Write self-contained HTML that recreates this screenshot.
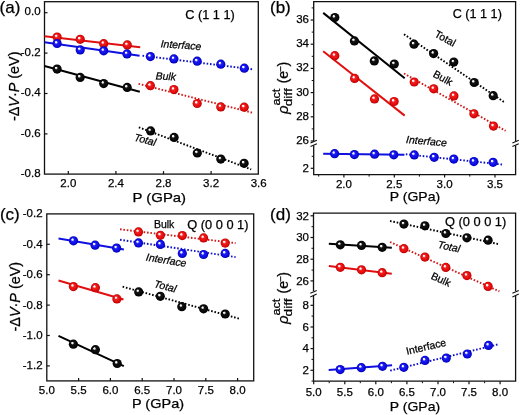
<!DOCTYPE html>
<html><head><meta charset="utf-8"><title>figure</title>
<style>
html,body{margin:0;padding:0;background:#fff;}
body{width:520px;height:415px;overflow:hidden;}
svg{display:block;font-family:"Liberation Sans", Arial, sans-serif;fill:#111;filter:blur(0.3px);}
svg text{fill:#000;stroke:#000;stroke-width:0.25px;}
</style></head><body>
<svg width="520" height="415" viewBox="0 0 520 415">
<defs>
<radialGradient id="gr" cx="0.5" cy="0.5" r="0.5" fx="0.36" fy="0.33">
<stop offset="0" stop-color="#ffffff"/><stop offset="0.16" stop-color="#fff0f0"/><stop offset="0.36" stop-color="#f22020"/><stop offset="0.8" stop-color="#e00808"/><stop offset="1" stop-color="#b00000"/></radialGradient>
<radialGradient id="gb" cx="0.5" cy="0.5" r="0.5" fx="0.36" fy="0.33">
<stop offset="0" stop-color="#ffffff"/><stop offset="0.16" stop-color="#f0f0ff"/><stop offset="0.36" stop-color="#2020f2"/><stop offset="0.8" stop-color="#0808e0"/><stop offset="1" stop-color="#0000a8"/></radialGradient>
<radialGradient id="gk" cx="0.5" cy="0.5" r="0.5" fx="0.36" fy="0.33">
<stop offset="0" stop-color="#ffffff"/><stop offset="0.16" stop-color="#f0f0f0"/><stop offset="0.36" stop-color="#141414"/><stop offset="1" stop-color="#000"/></radialGradient>
</defs>
<rect x="44.5" y="1.7" width="213.8" height="172.4" fill="none" stroke="#111" stroke-width="1.3"/>
<line x1="44.5" y1="12.7" x2="47.5" y2="12.7" stroke="#111" stroke-width="1.2" stroke-linecap="butt"/>
<text x="40.6" y="15.4" font-size="11.5" text-anchor="end" style="">0.0</text>
<line x1="44.5" y1="53.1" x2="47.5" y2="53.1" stroke="#111" stroke-width="1.2" stroke-linecap="butt"/>
<text x="40.6" y="55.8" font-size="11.5" text-anchor="end" style="">-0.2</text>
<line x1="44.5" y1="93.5" x2="47.5" y2="93.5" stroke="#111" stroke-width="1.2" stroke-linecap="butt"/>
<text x="40.6" y="96.2" font-size="11.5" text-anchor="end" style="">-0.4</text>
<line x1="44.5" y1="133.9" x2="47.5" y2="133.9" stroke="#111" stroke-width="1.2" stroke-linecap="butt"/>
<text x="40.6" y="136.6" font-size="11.5" text-anchor="end" style="">-0.6</text>
<text x="40.6" y="177.0" font-size="11.5" text-anchor="end" style="">-0.8</text>
<line x1="68.3" y1="174.1" x2="68.3" y2="171.1" stroke="#111" stroke-width="1.2" stroke-linecap="butt"/>
<text x="68.3" y="186.7" font-size="11.5" text-anchor="middle" style="">2.0</text>
<line x1="115.9" y1="174.1" x2="115.9" y2="171.1" stroke="#111" stroke-width="1.2" stroke-linecap="butt"/>
<text x="115.9" y="186.7" font-size="11.5" text-anchor="middle" style="">2.4</text>
<line x1="163.5" y1="174.1" x2="163.5" y2="171.1" stroke="#111" stroke-width="1.2" stroke-linecap="butt"/>
<text x="163.5" y="186.7" font-size="11.5" text-anchor="middle" style="">2.8</text>
<line x1="211.1" y1="174.1" x2="211.1" y2="171.1" stroke="#111" stroke-width="1.2" stroke-linecap="butt"/>
<text x="211.1" y="186.7" font-size="11.5" text-anchor="middle" style="">3.2</text>
<text x="258.7" y="186.7" font-size="11.5" text-anchor="middle" style="">3.6</text>
<text x="159.3" y="201.8" font-size="13" text-anchor="middle" textLength="53.5" lengthAdjust="spacingAndGlyphs" style="">P (GPa)</text>
<text x="-0.4" y="12.6" font-size="17" text-anchor="start" style="">(a)</text>
<text x="210.0" y="19.3" font-size="12" text-anchor="middle" textLength="49.5" lengthAdjust="spacingAndGlyphs" style="">C (1 1 1)</text>
<text transform="translate(18.6,86.3) rotate(-90)" font-size="14.4" text-anchor="middle">-&#916;<tspan font-style="italic">V</tspan>&#183;<tspan font-style="italic">P</tspan> (eV)</text>
<line x1="44.5" y1="36.2" x2="140.2" y2="47.3" stroke="#e01010" stroke-width="2.0" stroke-linecap="butt"/>
<circle cx="57.1" cy="37.0" r="4.6" fill="url(#gr)"/>
<circle cx="80.2" cy="39.3" r="4.6" fill="url(#gr)"/>
<circle cx="103.7" cy="43.7" r="4.6" fill="url(#gr)"/>
<circle cx="127.3" cy="44.9" r="4.6" fill="url(#gr)"/>
<line x1="44.5" y1="42.3" x2="139.6" y2="55.8" stroke="#1010e0" stroke-width="2.0" stroke-linecap="butt"/>
<circle cx="57.1" cy="43.5" r="4.6" fill="url(#gb)"/>
<circle cx="80.2" cy="49.9" r="4.6" fill="url(#gb)"/>
<circle cx="103.7" cy="50.8" r="4.6" fill="url(#gb)"/>
<circle cx="127.0" cy="53.9" r="4.6" fill="url(#gb)"/>
<line x1="44.5" y1="66.0" x2="139.8" y2="91.7" stroke="#000" stroke-width="2.0" stroke-linecap="butt"/>
<circle cx="57.1" cy="69.1" r="4.6" fill="url(#gk)"/>
<circle cx="80.2" cy="77.4" r="4.6" fill="url(#gk)"/>
<circle cx="103.7" cy="83.6" r="4.6" fill="url(#gk)"/>
<circle cx="127.2" cy="87.4" r="4.6" fill="url(#gk)"/>
<line x1="142.5" y1="55.7" x2="252.6" y2="69.3" stroke="#1010c8" stroke-width="1.9" stroke-dasharray="1.6 1.8" stroke-linecap="butt"/>
<circle cx="150.4" cy="56.6" r="4.6" fill="url(#gb)"/>
<circle cx="173.9" cy="58.9" r="4.6" fill="url(#gb)"/>
<circle cx="197.2" cy="61.2" r="4.6" fill="url(#gb)"/>
<circle cx="220.8" cy="64.2" r="4.6" fill="url(#gb)"/>
<circle cx="244.3" cy="68.2" r="4.6" fill="url(#gb)"/>
<line x1="138.5" y1="83.8" x2="252.0" y2="112.6" stroke="#d01818" stroke-width="1.9" stroke-dasharray="1.6 1.8" stroke-linecap="butt"/>
<circle cx="150.4" cy="85.7" r="4.6" fill="url(#gr)"/>
<circle cx="173.9" cy="89.6" r="4.6" fill="url(#gr)"/>
<circle cx="197.2" cy="103.5" r="4.6" fill="url(#gr)"/>
<circle cx="220.8" cy="106.9" r="4.6" fill="url(#gr)"/>
<circle cx="244.2" cy="107.2" r="4.6" fill="url(#gr)"/>
<line x1="138.8" y1="127.3" x2="251.2" y2="169.4" stroke="#000" stroke-width="1.9" stroke-dasharray="1.6 1.8" stroke-linecap="butt"/>
<circle cx="150.6" cy="130.9" r="4.6" fill="url(#gk)"/>
<circle cx="174.1" cy="137.4" r="4.6" fill="url(#gk)"/>
<circle cx="197.3" cy="153.0" r="4.6" fill="url(#gk)"/>
<circle cx="220.8" cy="159.1" r="4.6" fill="url(#gk)"/>
<circle cx="244.1" cy="163.3" r="4.6" fill="url(#gk)"/>
<path d="M313.7,141 L313.7,1.7 L515.6,1.7 L515.6,141 M515.6,145.5 L515.6,174.6 L313.7,174.6 L313.7,145.5" fill="none" stroke="#111" stroke-width="1.3"/>
<line x1="310.5" y1="143.0" x2="316.9" y2="140.2" stroke="#111" stroke-width="1.1" stroke-linecap="butt"/>
<line x1="310.5" y1="146.6" x2="316.9" y2="143.8" stroke="#111" stroke-width="1.1" stroke-linecap="butt"/>
<line x1="512.4" y1="143.0" x2="518.8" y2="140.2" stroke="#111" stroke-width="1.1" stroke-linecap="butt"/>
<line x1="512.4" y1="146.6" x2="518.8" y2="143.8" stroke="#111" stroke-width="1.1" stroke-linecap="butt"/>
<line x1="313.7" y1="20.0" x2="310.7" y2="20.0" stroke="#111" stroke-width="1.2" stroke-linecap="butt"/>
<text x="309.0" y="22.9" font-size="11.5" text-anchor="end" style="">36</text>
<line x1="313.7" y1="44.2" x2="310.7" y2="44.2" stroke="#111" stroke-width="1.2" stroke-linecap="butt"/>
<text x="309.0" y="47.1" font-size="11.5" text-anchor="end" style="">34</text>
<line x1="313.7" y1="68.4" x2="310.7" y2="68.4" stroke="#111" stroke-width="1.2" stroke-linecap="butt"/>
<text x="309.0" y="71.3" font-size="11.5" text-anchor="end" style="">32</text>
<line x1="313.7" y1="92.6" x2="310.7" y2="92.6" stroke="#111" stroke-width="1.2" stroke-linecap="butt"/>
<text x="309.0" y="95.5" font-size="11.5" text-anchor="end" style="">30</text>
<line x1="313.7" y1="116.8" x2="310.7" y2="116.8" stroke="#111" stroke-width="1.2" stroke-linecap="butt"/>
<text x="309.0" y="119.7" font-size="11.5" text-anchor="end" style="">28</text>
<line x1="313.7" y1="141.0" x2="310.7" y2="141.0" stroke="#111" stroke-width="1.2" stroke-linecap="butt"/>
<text x="309.0" y="143.9" font-size="11.5" text-anchor="end" style="">26</text>
<line x1="313.7" y1="7.9" x2="311.7" y2="7.9" stroke="#111" stroke-width="1.0" stroke-linecap="butt"/>
<line x1="313.7" y1="32.1" x2="311.7" y2="32.1" stroke="#111" stroke-width="1.0" stroke-linecap="butt"/>
<line x1="313.7" y1="56.3" x2="311.7" y2="56.3" stroke="#111" stroke-width="1.0" stroke-linecap="butt"/>
<line x1="313.7" y1="80.5" x2="311.7" y2="80.5" stroke="#111" stroke-width="1.0" stroke-linecap="butt"/>
<line x1="313.7" y1="104.7" x2="311.7" y2="104.7" stroke="#111" stroke-width="1.0" stroke-linecap="butt"/>
<line x1="313.7" y1="128.9" x2="311.7" y2="128.9" stroke="#111" stroke-width="1.0" stroke-linecap="butt"/>
<line x1="313.7" y1="168.3" x2="310.7" y2="168.3" stroke="#111" stroke-width="1.2" stroke-linecap="butt"/>
<text x="309.0" y="172.1" font-size="11.5" text-anchor="end" style="">2</text>
<line x1="313.7" y1="156.3" x2="311.7" y2="156.3" stroke="#111" stroke-width="1.0" stroke-linecap="butt"/>
<line x1="343.9" y1="174.6" x2="343.9" y2="177.6" stroke="#111" stroke-width="1.2" stroke-linecap="butt"/>
<text x="343.9" y="188.2" font-size="11.5" text-anchor="middle" style="">2.0</text>
<line x1="394.3" y1="174.6" x2="394.3" y2="177.6" stroke="#111" stroke-width="1.2" stroke-linecap="butt"/>
<text x="394.3" y="188.2" font-size="11.5" text-anchor="middle" style="">2.5</text>
<line x1="444.6" y1="174.6" x2="444.6" y2="177.6" stroke="#111" stroke-width="1.2" stroke-linecap="butt"/>
<text x="444.6" y="188.2" font-size="11.5" text-anchor="middle" style="">3.0</text>
<line x1="495.0" y1="174.6" x2="495.0" y2="177.6" stroke="#111" stroke-width="1.2" stroke-linecap="butt"/>
<text x="495.0" y="188.2" font-size="11.5" text-anchor="middle" style="">3.5</text>
<line x1="318.7" y1="174.6" x2="318.7" y2="176.6" stroke="#111" stroke-width="1.0" stroke-linecap="butt"/>
<line x1="369.1" y1="174.6" x2="369.1" y2="176.6" stroke="#111" stroke-width="1.0" stroke-linecap="butt"/>
<line x1="419.4" y1="174.6" x2="419.4" y2="176.6" stroke="#111" stroke-width="1.0" stroke-linecap="butt"/>
<line x1="469.8" y1="174.6" x2="469.8" y2="176.6" stroke="#111" stroke-width="1.0" stroke-linecap="butt"/>
<text x="415.0" y="200.9" font-size="13" text-anchor="middle" textLength="50.3" lengthAdjust="spacingAndGlyphs" style="">P (GPa)</text>
<text x="270.0" y="12.7" font-size="17" text-anchor="start" style="">(b)</text>
<text x="477.3" y="18.4" font-size="12" text-anchor="middle" textLength="49.1" lengthAdjust="spacingAndGlyphs" style="">C (1 1 1)</text>
<g transform="translate(288.0,112.9) rotate(-90)">
<text x="-1.0" y="0.3" font-size="15" font-style="italic">&#961;</text>
<text x="6.6" y="3.9" font-size="11" textLength="18.0" lengthAdjust="spacingAndGlyphs">diff</text>
<text x="7.4" y="-7.8" font-size="11" textLength="16.8" lengthAdjust="spacingAndGlyphs">act</text>
<text x="29.6" y="0" font-size="14">(e</text>
<text x="41.2" y="-4.2" font-size="10">&#8722;</text>
<text x="46.3" y="0" font-size="14">)</text>
</g>
<line x1="323.2" y1="12.9" x2="404.7" y2="78.2" stroke="#000" stroke-width="2.0" stroke-linecap="butt"/>
<circle cx="334.8" cy="17.5" r="4.6" fill="url(#gk)"/>
<circle cx="354.4" cy="40.9" r="4.6" fill="url(#gk)"/>
<circle cx="374.3" cy="60.9" r="4.6" fill="url(#gk)"/>
<circle cx="394.3" cy="64.0" r="4.6" fill="url(#gk)"/>
<line x1="323.2" y1="51.3" x2="404.7" y2="115.6" stroke="#e01010" stroke-width="2.0" stroke-linecap="butt"/>
<circle cx="334.8" cy="55.7" r="4.6" fill="url(#gr)"/>
<circle cx="354.6" cy="78.4" r="4.6" fill="url(#gr)"/>
<circle cx="374.5" cy="98.9" r="4.6" fill="url(#gr)"/>
<circle cx="394.1" cy="101.5" r="4.6" fill="url(#gr)"/>
<line x1="323.2" y1="153.7" x2="404.4" y2="154.8" stroke="#1010e0" stroke-width="2.0" stroke-linecap="butt"/>
<circle cx="334.6" cy="153.7" r="4.6" fill="url(#gb)"/>
<circle cx="354.4" cy="154.6" r="4.6" fill="url(#gb)"/>
<circle cx="374.6" cy="154.2" r="4.6" fill="url(#gb)"/>
<circle cx="393.8" cy="154.8" r="4.6" fill="url(#gb)"/>
<line x1="404.0" y1="34.2" x2="504.6" y2="102.4" stroke="#000" stroke-width="1.9" stroke-dasharray="1.6 1.8" stroke-linecap="butt"/>
<circle cx="414.0" cy="44.2" r="4.6" fill="url(#gk)"/>
<circle cx="433.6" cy="53.6" r="4.6" fill="url(#gk)"/>
<circle cx="453.8" cy="62.1" r="4.6" fill="url(#gk)"/>
<circle cx="474.2" cy="82.5" r="4.6" fill="url(#gk)"/>
<circle cx="493.2" cy="95.7" r="4.6" fill="url(#gk)"/>
<line x1="404.0" y1="73.5" x2="505.6" y2="130.8" stroke="#d01818" stroke-width="1.9" stroke-dasharray="1.6 1.8" stroke-linecap="butt"/>
<circle cx="414.2" cy="82.0" r="4.6" fill="url(#gr)"/>
<circle cx="433.7" cy="88.8" r="4.6" fill="url(#gr)"/>
<circle cx="453.9" cy="95.9" r="4.6" fill="url(#gr)"/>
<circle cx="473.9" cy="113.8" r="4.6" fill="url(#gr)"/>
<circle cx="493.5" cy="126.1" r="4.6" fill="url(#gr)"/>
<line x1="405.8" y1="154.2" x2="502.8" y2="164.6" stroke="#1010c8" stroke-width="1.9" stroke-dasharray="1.6 1.8" stroke-linecap="butt"/>
<circle cx="414.3" cy="154.9" r="4.6" fill="url(#gb)"/>
<circle cx="434.2" cy="157.3" r="4.6" fill="url(#gb)"/>
<circle cx="453.8" cy="159.1" r="4.6" fill="url(#gb)"/>
<circle cx="473.9" cy="161.6" r="4.6" fill="url(#gb)"/>
<circle cx="493.1" cy="162.3" r="4.6" fill="url(#gb)"/>
<rect x="46.8" y="213.9" width="206.9" height="167.0" fill="none" stroke="#111" stroke-width="1.3"/>
<text x="42.6" y="217.3" font-size="11.5" text-anchor="end" style="">-0.2</text>
<line x1="46.8" y1="244.3" x2="49.8" y2="244.3" stroke="#111" stroke-width="1.2" stroke-linecap="butt"/>
<text x="42.6" y="247.7" font-size="11.5" text-anchor="end" style="">-0.4</text>
<line x1="46.8" y1="274.7" x2="49.8" y2="274.7" stroke="#111" stroke-width="1.2" stroke-linecap="butt"/>
<text x="42.6" y="278.1" font-size="11.5" text-anchor="end" style="">-0.6</text>
<line x1="46.8" y1="305.1" x2="49.8" y2="305.1" stroke="#111" stroke-width="1.2" stroke-linecap="butt"/>
<text x="42.6" y="308.5" font-size="11.5" text-anchor="end" style="">-0.8</text>
<line x1="46.8" y1="335.5" x2="49.8" y2="335.5" stroke="#111" stroke-width="1.2" stroke-linecap="butt"/>
<text x="42.6" y="338.9" font-size="11.5" text-anchor="end" style="">-1.0</text>
<line x1="46.8" y1="365.9" x2="49.8" y2="365.9" stroke="#111" stroke-width="1.2" stroke-linecap="butt"/>
<text x="42.6" y="369.3" font-size="11.5" text-anchor="end" style="">-1.2</text>
<text x="46.8" y="393.8" font-size="11.5" text-anchor="middle" style="">5.0</text>
<line x1="78.6" y1="380.9" x2="78.6" y2="377.9" stroke="#111" stroke-width="1.2" stroke-linecap="butt"/>
<text x="78.6" y="393.8" font-size="11.5" text-anchor="middle" style="">5.5</text>
<line x1="110.4" y1="380.9" x2="110.4" y2="377.9" stroke="#111" stroke-width="1.2" stroke-linecap="butt"/>
<text x="110.4" y="393.8" font-size="11.5" text-anchor="middle" style="">6.0</text>
<line x1="142.2" y1="380.9" x2="142.2" y2="377.9" stroke="#111" stroke-width="1.2" stroke-linecap="butt"/>
<text x="142.2" y="393.8" font-size="11.5" text-anchor="middle" style="">6.5</text>
<line x1="174.0" y1="380.9" x2="174.0" y2="377.9" stroke="#111" stroke-width="1.2" stroke-linecap="butt"/>
<text x="174.0" y="393.8" font-size="11.5" text-anchor="middle" style="">7.0</text>
<line x1="205.8" y1="380.9" x2="205.8" y2="377.9" stroke="#111" stroke-width="1.2" stroke-linecap="butt"/>
<text x="205.8" y="393.8" font-size="11.5" text-anchor="middle" style="">7.5</text>
<line x1="237.6" y1="380.9" x2="237.6" y2="377.9" stroke="#111" stroke-width="1.2" stroke-linecap="butt"/>
<text x="237.6" y="393.8" font-size="11.5" text-anchor="middle" style="">8.0</text>
<text x="158.0" y="407.6" font-size="13" text-anchor="middle" textLength="52.1" lengthAdjust="spacingAndGlyphs" style="">P (GPa)</text>
<text x="-0.1" y="219.7" font-size="17" text-anchor="start" style="">(c)</text>
<text x="217.9" y="229.0" font-size="12" text-anchor="middle" textLength="61.2" lengthAdjust="spacingAndGlyphs" style="">Q (0 0 0 1)</text>
<text transform="translate(19.8,296.7) rotate(-90)" font-size="14.4" text-anchor="middle">-&#916;<tspan font-style="italic">V</tspan>&#183;<tspan font-style="italic">P</tspan> (eV)</text>
<line x1="58.5" y1="238.5" x2="123.9" y2="249.6" stroke="#1010e0" stroke-width="2.0" stroke-linecap="butt"/>
<circle cx="73.5" cy="240.8" r="4.6" fill="url(#gb)"/>
<circle cx="95.1" cy="245.2" r="4.6" fill="url(#gb)"/>
<circle cx="116.6" cy="248.1" r="4.6" fill="url(#gb)"/>
<line x1="58.5" y1="280.5" x2="123.5" y2="299.5" stroke="#e01010" stroke-width="2.0" stroke-linecap="butt"/>
<circle cx="73.4" cy="286.6" r="4.6" fill="url(#gr)"/>
<circle cx="95.4" cy="287.7" r="4.6" fill="url(#gr)"/>
<circle cx="116.9" cy="298.9" r="4.6" fill="url(#gr)"/>
<line x1="58.5" y1="335.8" x2="123.8" y2="366.2" stroke="#000" stroke-width="2.0" stroke-linecap="butt"/>
<circle cx="73.4" cy="344.2" r="4.6" fill="url(#gk)"/>
<circle cx="95.4" cy="349.7" r="4.6" fill="url(#gk)"/>
<circle cx="117.2" cy="363.5" r="4.6" fill="url(#gk)"/>
<line x1="120.0" y1="229.3" x2="235.6" y2="243.1" stroke="#d01818" stroke-width="1.9" stroke-dasharray="1.6 1.8" stroke-linecap="butt"/>
<circle cx="138.5" cy="231.9" r="4.6" fill="url(#gr)"/>
<circle cx="160.4" cy="235.3" r="4.6" fill="url(#gr)"/>
<circle cx="182.3" cy="235.6" r="4.6" fill="url(#gr)"/>
<circle cx="203.6" cy="237.9" r="4.6" fill="url(#gr)"/>
<circle cx="225.2" cy="243.1" r="4.6" fill="url(#gr)"/>
<line x1="120.0" y1="239.7" x2="235.6" y2="257.1" stroke="#1010c8" stroke-width="1.9" stroke-dasharray="1.6 1.8" stroke-linecap="butt"/>
<circle cx="138.5" cy="242.9" r="4.6" fill="url(#gb)"/>
<circle cx="160.4" cy="244.4" r="4.6" fill="url(#gb)"/>
<circle cx="182.3" cy="253.5" r="4.6" fill="url(#gb)"/>
<circle cx="203.6" cy="254.5" r="4.6" fill="url(#gb)"/>
<circle cx="225.2" cy="253.4" r="4.6" fill="url(#gb)"/>
<line x1="122.6" y1="286.7" x2="239.0" y2="318.6" stroke="#000" stroke-width="1.9" stroke-dasharray="1.6 1.8" stroke-linecap="butt"/>
<circle cx="138.7" cy="291.9" r="4.6" fill="url(#gk)"/>
<circle cx="160.3" cy="296.3" r="4.6" fill="url(#gk)"/>
<circle cx="181.8" cy="306.7" r="4.6" fill="url(#gk)"/>
<circle cx="203.6" cy="308.8" r="4.6" fill="url(#gk)"/>
<circle cx="225.2" cy="314.0" r="4.6" fill="url(#gk)"/>
<path d="M313.5,291 L313.5,213.2 L515.6,213.2 L515.6,291 M515.6,295.5 L515.6,381.2 L313.5,381.2 L313.5,295.5" fill="none" stroke="#111" stroke-width="1.3"/>
<line x1="310.3" y1="293.3" x2="316.7" y2="290.4" stroke="#111" stroke-width="1.1" stroke-linecap="butt"/>
<line x1="310.3" y1="297.0" x2="316.7" y2="294.1" stroke="#111" stroke-width="1.1" stroke-linecap="butt"/>
<line x1="512.4" y1="293.3" x2="518.8" y2="290.4" stroke="#111" stroke-width="1.1" stroke-linecap="butt"/>
<line x1="512.4" y1="297.0" x2="518.8" y2="294.1" stroke="#111" stroke-width="1.1" stroke-linecap="butt"/>
<line x1="313.5" y1="215.8" x2="310.5" y2="215.8" stroke="#111" stroke-width="1.2" stroke-linecap="butt"/>
<text x="309.0" y="219.6" font-size="11.5" text-anchor="end" style="">32</text>
<line x1="313.5" y1="237.5" x2="310.5" y2="237.5" stroke="#111" stroke-width="1.2" stroke-linecap="butt"/>
<text x="309.0" y="241.3" font-size="11.5" text-anchor="end" style="">30</text>
<line x1="313.5" y1="259.2" x2="310.5" y2="259.2" stroke="#111" stroke-width="1.2" stroke-linecap="butt"/>
<text x="309.0" y="263.0" font-size="11.5" text-anchor="end" style="">28</text>
<line x1="313.5" y1="280.9" x2="310.5" y2="280.9" stroke="#111" stroke-width="1.2" stroke-linecap="butt"/>
<text x="309.0" y="284.7" font-size="11.5" text-anchor="end" style="">26</text>
<line x1="313.5" y1="226.7" x2="311.5" y2="226.7" stroke="#111" stroke-width="1.0" stroke-linecap="butt"/>
<line x1="313.5" y1="248.3" x2="311.5" y2="248.3" stroke="#111" stroke-width="1.0" stroke-linecap="butt"/>
<line x1="313.5" y1="270.1" x2="311.5" y2="270.1" stroke="#111" stroke-width="1.0" stroke-linecap="butt"/>
<line x1="313.5" y1="305.3" x2="310.5" y2="305.3" stroke="#111" stroke-width="1.2" stroke-linecap="butt"/>
<text x="309.0" y="309.1" font-size="11.5" text-anchor="end" style="">8</text>
<line x1="313.5" y1="327.0" x2="310.5" y2="327.0" stroke="#111" stroke-width="1.2" stroke-linecap="butt"/>
<text x="309.0" y="330.8" font-size="11.5" text-anchor="end" style="">6</text>
<line x1="313.5" y1="348.6" x2="310.5" y2="348.6" stroke="#111" stroke-width="1.2" stroke-linecap="butt"/>
<text x="309.0" y="352.4" font-size="11.5" text-anchor="end" style="">4</text>
<line x1="313.5" y1="370.3" x2="310.5" y2="370.3" stroke="#111" stroke-width="1.2" stroke-linecap="butt"/>
<text x="309.0" y="374.1" font-size="11.5" text-anchor="end" style="">2</text>
<line x1="313.5" y1="316.1" x2="311.5" y2="316.1" stroke="#111" stroke-width="1.0" stroke-linecap="butt"/>
<line x1="313.5" y1="337.8" x2="311.5" y2="337.8" stroke="#111" stroke-width="1.0" stroke-linecap="butt"/>
<line x1="313.5" y1="359.4" x2="311.5" y2="359.4" stroke="#111" stroke-width="1.0" stroke-linecap="butt"/>
<line x1="313.5" y1="381.1" x2="311.5" y2="381.1" stroke="#111" stroke-width="1.0" stroke-linecap="butt"/>
<line x1="313.7" y1="381.2" x2="313.7" y2="384.2" stroke="#111" stroke-width="1.2" stroke-linecap="butt"/>
<text x="313.7" y="395.6" font-size="11.5" text-anchor="middle" style="">5.0</text>
<line x1="329.2" y1="381.2" x2="329.2" y2="383.2" stroke="#111" stroke-width="1.0" stroke-linecap="butt"/>
<line x1="344.8" y1="381.2" x2="344.8" y2="384.2" stroke="#111" stroke-width="1.2" stroke-linecap="butt"/>
<text x="344.8" y="395.6" font-size="11.5" text-anchor="middle" style="">5.5</text>
<line x1="360.3" y1="381.2" x2="360.3" y2="383.2" stroke="#111" stroke-width="1.0" stroke-linecap="butt"/>
<line x1="375.8" y1="381.2" x2="375.8" y2="384.2" stroke="#111" stroke-width="1.2" stroke-linecap="butt"/>
<text x="375.8" y="395.6" font-size="11.5" text-anchor="middle" style="">6.0</text>
<line x1="391.4" y1="381.2" x2="391.4" y2="383.2" stroke="#111" stroke-width="1.0" stroke-linecap="butt"/>
<line x1="406.9" y1="381.2" x2="406.9" y2="384.2" stroke="#111" stroke-width="1.2" stroke-linecap="butt"/>
<text x="406.9" y="395.6" font-size="11.5" text-anchor="middle" style="">6.5</text>
<line x1="422.4" y1="381.2" x2="422.4" y2="383.2" stroke="#111" stroke-width="1.0" stroke-linecap="butt"/>
<line x1="438.0" y1="381.2" x2="438.0" y2="384.2" stroke="#111" stroke-width="1.2" stroke-linecap="butt"/>
<text x="438.0" y="395.6" font-size="11.5" text-anchor="middle" style="">7.0</text>
<line x1="453.5" y1="381.2" x2="453.5" y2="383.2" stroke="#111" stroke-width="1.0" stroke-linecap="butt"/>
<line x1="469.0" y1="381.2" x2="469.0" y2="384.2" stroke="#111" stroke-width="1.2" stroke-linecap="butt"/>
<text x="469.0" y="395.6" font-size="11.5" text-anchor="middle" style="">7.5</text>
<line x1="484.6" y1="381.2" x2="484.6" y2="383.2" stroke="#111" stroke-width="1.0" stroke-linecap="butt"/>
<line x1="500.1" y1="381.2" x2="500.1" y2="384.2" stroke="#111" stroke-width="1.2" stroke-linecap="butt"/>
<text x="500.1" y="395.6" font-size="11.5" text-anchor="middle" style="">8.0</text>
<text x="415.0" y="410.8" font-size="13" text-anchor="middle" textLength="50.3" lengthAdjust="spacingAndGlyphs" style="">P (GPa)</text>
<text x="270.1" y="219.9" font-size="17" text-anchor="start" style="">(d)</text>
<text x="475.6" y="226.2" font-size="12" text-anchor="middle" textLength="61.4" lengthAdjust="spacingAndGlyphs" style="">Q (0 0 0 1)</text>
<g transform="translate(288.0,323.0) rotate(-90)">
<text x="-1.0" y="0.3" font-size="15" font-style="italic">&#961;</text>
<text x="6.6" y="3.9" font-size="11" textLength="18.0" lengthAdjust="spacingAndGlyphs">diff</text>
<text x="7.4" y="-7.8" font-size="11" textLength="16.8" lengthAdjust="spacingAndGlyphs">act</text>
<text x="29.6" y="0" font-size="14">(e</text>
<text x="41.2" y="-4.2" font-size="10">&#8722;</text>
<text x="46.3" y="0" font-size="14">)</text>
</g>
<line x1="328.8" y1="243.8" x2="391.8" y2="247.7" stroke="#000" stroke-width="2.0" stroke-linecap="butt"/>
<circle cx="340.3" cy="244.8" r="4.6" fill="url(#gk)"/>
<circle cx="361.5" cy="245.4" r="4.6" fill="url(#gk)"/>
<circle cx="382.2" cy="247.3" r="4.6" fill="url(#gk)"/>
<line x1="328.8" y1="266.0" x2="391.8" y2="273.7" stroke="#e01010" stroke-width="2.0" stroke-linecap="butt"/>
<circle cx="340.3" cy="267.3" r="4.6" fill="url(#gr)"/>
<circle cx="361.5" cy="269.8" r="4.6" fill="url(#gr)"/>
<circle cx="382.2" cy="272.7" r="4.6" fill="url(#gr)"/>
<line x1="328.7" y1="370.0" x2="392.1" y2="365.2" stroke="#1010e0" stroke-width="2.0" stroke-linecap="butt"/>
<circle cx="340.2" cy="369.6" r="4.6" fill="url(#gb)"/>
<circle cx="361.3" cy="367.7" r="4.6" fill="url(#gb)"/>
<circle cx="382.5" cy="366.3" r="4.6" fill="url(#gb)"/>
<line x1="390.0" y1="221.0" x2="499.4" y2="244.3" stroke="#000" stroke-width="1.9" stroke-dasharray="1.6 1.8" stroke-linecap="butt"/>
<circle cx="403.9" cy="224.1" r="4.6" fill="url(#gk)"/>
<circle cx="424.9" cy="225.8" r="4.6" fill="url(#gk)"/>
<circle cx="445.8" cy="233.5" r="4.6" fill="url(#gk)"/>
<circle cx="466.9" cy="237.8" r="4.6" fill="url(#gk)"/>
<circle cx="488.1" cy="240.2" r="4.6" fill="url(#gk)"/>
<line x1="390.0" y1="242.0" x2="499.4" y2="291.4" stroke="#d01818" stroke-width="1.9" stroke-dasharray="1.6 1.8" stroke-linecap="butt"/>
<circle cx="403.9" cy="248.7" r="4.6" fill="url(#gr)"/>
<circle cx="424.9" cy="257.1" r="4.6" fill="url(#gr)"/>
<circle cx="445.8" cy="267.4" r="4.6" fill="url(#gr)"/>
<circle cx="466.9" cy="275.6" r="4.6" fill="url(#gr)"/>
<circle cx="488.1" cy="286.4" r="4.6" fill="url(#gr)"/>
<line x1="390.2" y1="370.6" x2="498.9" y2="344.2" stroke="#1010c8" stroke-width="1.9" stroke-dasharray="1.6 1.8" stroke-linecap="butt"/>
<circle cx="403.8" cy="367.3" r="4.6" fill="url(#gb)"/>
<circle cx="425.0" cy="360.4" r="4.6" fill="url(#gb)"/>
<circle cx="446.3" cy="358.1" r="4.6" fill="url(#gb)"/>
<circle cx="467.3" cy="354.0" r="4.6" fill="url(#gb)"/>
<circle cx="488.5" cy="345.4" r="4.6" fill="url(#gb)"/>
<text transform="translate(160.4,47.2) rotate(4)" font-size="10.5" font-style="italic">Interface</text>
<text transform="translate(155.4,79.6) rotate(2)" font-size="10.5" font-style="italic">Bulk</text>
<text transform="translate(133.4,140.4) rotate(15)" font-size="10.5" font-style="italic">Total</text>
<text transform="translate(433.7,36.2) rotate(28.5)" font-size="10.5">Total</text>
<text transform="translate(432.2,76.2) rotate(29)" font-size="10.5">Bulk</text>
<text transform="translate(405.8,143.0) rotate(5)" font-size="10.5" font-style="italic">Interface</text>
<text transform="translate(153.9,228.2) rotate(0)" font-size="10.5">Bulk</text>
<text transform="translate(145.5,260.5) rotate(9)" font-size="10.5" font-style="italic">Interface</text>
<text transform="translate(153.5,287.0) rotate(14.6)" font-size="10.5" font-style="italic">Total</text>
<text transform="translate(437.3,247.8) rotate(12)" font-size="10.5" font-style="italic">Total</text>
<text transform="translate(430.2,278.4) rotate(25)" font-size="10.5">Bulk</text>
<text transform="translate(407.0,354.8) rotate(-13)" font-size="10.5">Interface</text>
</svg>
</body></html>
